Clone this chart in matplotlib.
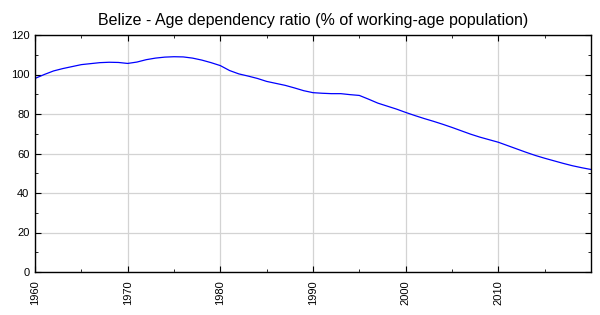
import numpy as np
import matplotlib
matplotlib.use('Agg')
import matplotlib.pyplot as plt
from matplotlib.ticker import MultipleLocator

plt.rcParams['font.family'] = ['Liberation Sans', 'DejaVu Sans']

# %% data
years = list(range(1960, 2021))
ratio = [98.0, 100.0, 101.8, 103.0, 104.0, 105.0, 105.5, 106.0, 106.2, 106.1,
         105.6, 106.3, 107.5, 108.3, 108.8, 109.0, 108.9, 108.3, 107.3, 106.0,
         104.5, 102.0, 100.3, 99.2, 98.0, 96.5, 95.5, 94.5, 93.2, 91.8,
         90.8, 90.5, 90.3, 90.3, 89.8, 89.4, 87.5, 85.5, 84.0, 82.5,
         80.8, 79.2, 77.7, 76.3, 74.8, 73.2, 71.5, 69.8, 68.3, 67.0,
         65.7, 64.0, 62.3, 60.6, 59.0, 57.6, 56.3, 55.0, 53.8, 52.8,
         51.9]
title = 'Belize - Age dependency ratio (% of working-age population)'

# %% plot
fig = plt.figure(figsize=(6, 3.15), dpi=100)
ax = fig.add_axes([35 / 600, 43 / 315, 556 / 600, 237 / 315])
ax.plot(years, ratio, color='blue', lw=0.9)

ax.set_xlim(1960, 2020)
ax.set_ylim(0, 120)
ax.xaxis.set_major_locator(MultipleLocator(10))
ax.xaxis.set_minor_locator(MultipleLocator(5))
ax.yaxis.set_major_locator(MultipleLocator(20))
ax.yaxis.set_minor_locator(MultipleLocator(10))
ax.set_xticks([1960, 1970, 1980, 1990, 2000, 2010])
ax.tick_params(which='both', direction='in', top=True, right=True, labelsize=8)
ax.tick_params(axis='x', pad=6)
ax.tick_params(axis='y', pad=4)
ax.tick_params(which='major', length=4.5)
ax.tick_params(which='minor', length=2.5)
for lab in ax.get_xticklabels():
    lab.set_rotation(90)
ax.grid(True, which='major', color='#d3d3d3', lw=0.9)
ax.set_axisbelow(True)
for s in ax.spines.values():
    s.set_linewidth(1.0)

fig.text(313 / 600, 1 - 20 / 315, title, ha='center', va='center', fontsize=11.5)
fig.savefig('out.png', dpi=100)
